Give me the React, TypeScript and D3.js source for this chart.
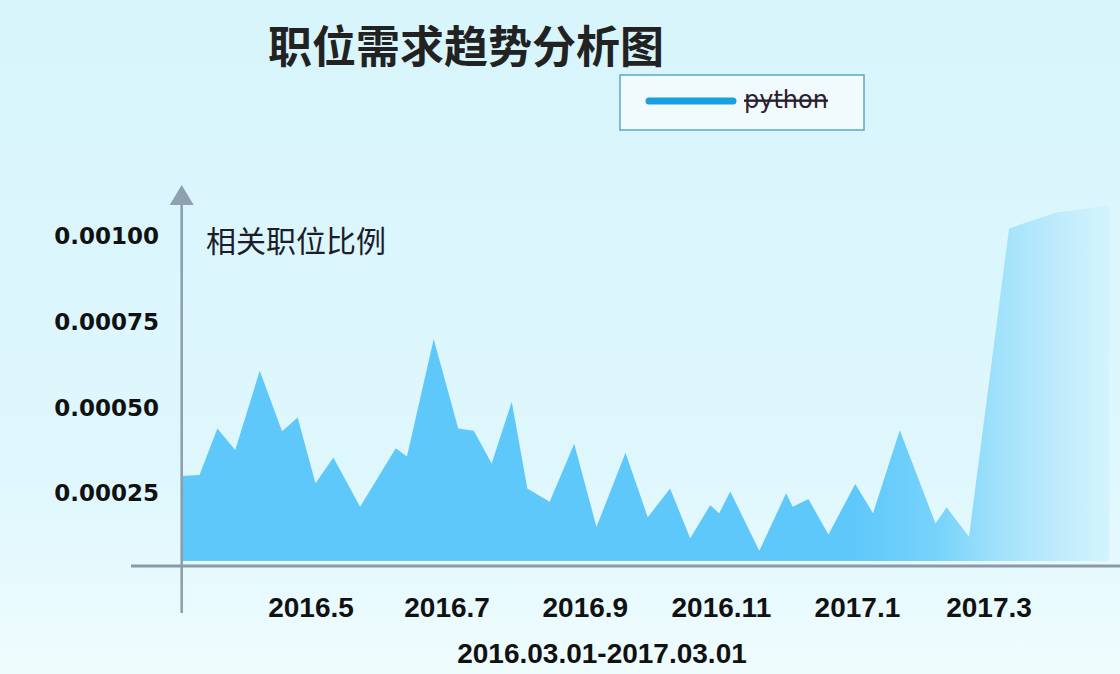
import React, { useRef, useEffect } from 'react';
import * as d3 from 'd3';

const WIDTH = 1120;
const HEIGHT = 674;

// python job share
const dates = [
  '2016-03-04', '2016-03-12', '2016-03-20', '2016-03-28', '2016-04-08', '2016-04-18', '2016-04-25',
  '2016-05-03', '2016-05-11', '2016-05-23', '2016-06-08', '2016-06-13', '2016-06-25', '2016-07-06',
  '2016-07-13', '2016-07-21', '2016-07-30', '2016-08-06', '2016-08-16', '2016-08-27', '2016-09-06',
  '2016-09-19', '2016-09-29', '2016-10-09', '2016-10-18', '2016-10-27', '2016-10-31', '2016-11-05',
  '2016-11-18', '2016-11-30', '2016-12-03', '2016-12-10', '2016-12-19', '2016-12-31', '2017-01-08',
  '2017-01-20', '2017-02-05', '2017-02-10', '2017-02-20', '2017-03-10', '2017-03-31', '2017-04-24',
];
const values = [
  0.000300, 0.000303, 0.000439, 0.000376, 0.000607, 0.000431, 0.000471,
  0.000279, 0.000354, 0.000211, 0.000381, 0.000357, 0.000700, 0.000439,
  0.000432, 0.000337, 0.000517, 0.000264, 0.000225, 0.000394, 0.000152,
  0.000368, 0.000180, 0.000264, 0.000119, 0.000215, 0.000192, 0.000255,
  0.000082, 0.000250, 0.000211, 0.000233, 0.000130, 0.000277, 0.000192,
  0.000434, 0.000162, 0.000209, 0.000123, 0.001022, 0.001068, 0.001090,
];

const yTicks = [0.00025, 0.0005, 0.00075, 0.001];
const xTickDates = ['2016-05-01', '2016-07-01', '2016-09-01', '2016-11-01', '2017-01-01', '2017-03-01'];
const xTickLabels = ['2016.5', '2016.7', '2016.9', '2016.11', '2017.1', '2017.3'];
const periodDates = ['2016-03-01', '2017-03-01'];

const title = '职位需求趋势分析图';
const yTitle = '相关职位比例';
const periodLabel = '2016.03.01-2017.03.01';
const seriesName = 'python';

const parse = d3.timeParse('%Y-%m-%d');

export default function App() {
  const svgRef = useRef<SVGSVGElement>(null);

  useEffect(() => {
    if (!svgRef.current) return;
    const svg = d3.select(svgRef.current);
    svg.selectAll('*').remove();

    const data = dates.map((d, i) => ({ date: parse(d) as Date, value: values[i] }));

    const x = d3.scaleTime()
      .domain(periodDates.map(d => parse(d) as Date))
      .range([175, 989]);
    const y = d3.scaleLinear().domain([0, 0.001]).range([579, 236]);

    const axisX = x(data[0].date);
    const axisY = 566;
    const baseY = axisY - 5;

    const defs = svg.append('defs');

    const bg = defs.append('linearGradient')
      .attr('id', 'bg').attr('x1', 0).attr('y1', 0).attr('x2', 0).attr('y2', 1);
    bg.append('stop').attr('offset', '0%').attr('stop-color', '#d8f5fc');
    bg.append('stop').attr('offset', '70%').attr('stop-color', '#def7fd');
    bg.append('stop').attr('offset', '100%').attr('stop-color', '#effcfe');

    const fill = defs.append('linearGradient')
      .attr('id', 'areaFill')
      .attr('gradientUnits', 'userSpaceOnUse')
      .attr('x1', 175).attr('y1', 0).attr('x2', WIDTH).attr('y2', 0);
    [
      [0, '#5fc8fa'],
      [0.72, '#5fc8fa'],
      [0.81, '#79d3fb'],
      [0.87, '#a0e1fb'],
      [0.935, '#bfebfc'],
      [1, '#d8f5fd'],
    ].forEach(([o, c]) => {
      fill.append('stop').attr('offset', o as number).attr('stop-color', c as string);
    });

    svg.append('rect')
      .attr('width', WIDTH).attr('height', HEIGHT)
      .attr('fill', 'url(#bg)');

    // title
    svg.append('text')
      .attr('x', 466).attr('y', 44)
      .attr('text-anchor', 'middle')
      .attr('dominant-baseline', 'central')
      .attr('font-family', '"Noto Sans CJK SC", sans-serif')
      .attr('font-weight', 700)
      .attr('font-size', 44)
      .attr('fill', '#222222')
      .text(title);

    // legend
    const legend = svg.append('g');
    legend.append('rect')
      .attr('x', 620).attr('y', 75).attr('width', 244).attr('height', 55)
      .attr('fill', '#f1fbfe')
      .attr('stroke', '#5aa8c4').attr('stroke-width', 1.5);
    legend.append('line')
      .attr('x1', 649).attr('x2', 733).attr('y1', 101).attr('y2', 101)
      .attr('stroke', '#1a9fe0').attr('stroke-width', 7)
      .attr('stroke-linecap', 'round');
    legend.append('text')
      .attr('x', 744).attr('y', 108)
      .attr('font-family', '"DejaVu Sans", sans-serif')
      .attr('font-size', 24)
      .attr('fill', '#2a1f2e')
      .style('text-decoration', 'line-through')
      .text(seriesName);

    // area
    const area = d3.area<{ date: Date; value: number }>()
      .x(d => x(d.date))
      .y0(baseY)
      .y1(d => y(d.value))
      .curve(d3.curveLinear);

    svg.append('path')
      .datum(data)
      .attr('fill', 'url(#areaFill)')
      .attr('d', area);

    // axes
    svg.append('line')
      .attr('x1', 131).attr('x2', WIDTH)
      .attr('y1', axisY).attr('y2', axisY)
      .attr('stroke', '#8b98a8').attr('stroke-width', 3);
    svg.append('line')
      .attr('x1', axisX).attr('x2', axisX)
      .attr('y1', 203).attr('y2', 613)
      .attr('stroke', '#8d9cab').attr('stroke-width', 2.5);
    svg.append('path')
      .attr('d', `M${axisX - 12},205 L${axisX + 12},205 L${axisX},185 Z`)
      .attr('fill', '#8fa0b0');

    // y tick labels
    svg.append('g')
      .selectAll('text')
      .data(yTicks)
      .enter()
      .append('text')
      .attr('x', 159)
      .attr('y', d => y(d))
      .attr('text-anchor', 'end')
      .attr('dominant-baseline', 'central')
      .attr('font-family', '"DejaVu Sans", sans-serif')
      .attr('font-weight', 700)
      .attr('font-size', 23)
      .attr('fill', '#111111')
      .text(d => d3.format('.5f')(d));

    svg.append('text')
      .attr('x', 206).attr('y', 239)
      .attr('dominant-baseline', 'central')
      .attr('font-family', '"Noto Sans CJK SC", sans-serif')
      .attr('font-size', 30)
      .attr('fill', '#1c1c2a')
      .text(yTitle);

    // x tick labels
    svg.append('g')
      .selectAll('text')
      .data(xTickDates)
      .enter()
      .append('text')
      .attr('x', d => x(parse(d) as Date))
      .attr('y', 617)
      .attr('text-anchor', 'middle')
      .attr('font-family', '"Liberation Sans", Arial, sans-serif')
      .attr('font-weight', 700)
      .attr('font-size', 28)
      .attr('fill', '#111111')
      .text((_, i) => xTickLabels[i]);

    svg.append('text')
      .attr('x', 602).attr('y', 663)
      .attr('text-anchor', 'middle')
      .attr('font-family', '"Liberation Sans", Arial, sans-serif')
      .attr('font-weight', 700)
      .attr('font-size', 28)
      .attr('fill', '#111111')
      .text(periodLabel);
  }, []);

  return (
    <div style={{ position: 'absolute', left: 0, top: 0, width: WIDTH, height: HEIGHT }}>
      <svg ref={svgRef} width={WIDTH} height={HEIGHT} />
    </div>
  );
}
